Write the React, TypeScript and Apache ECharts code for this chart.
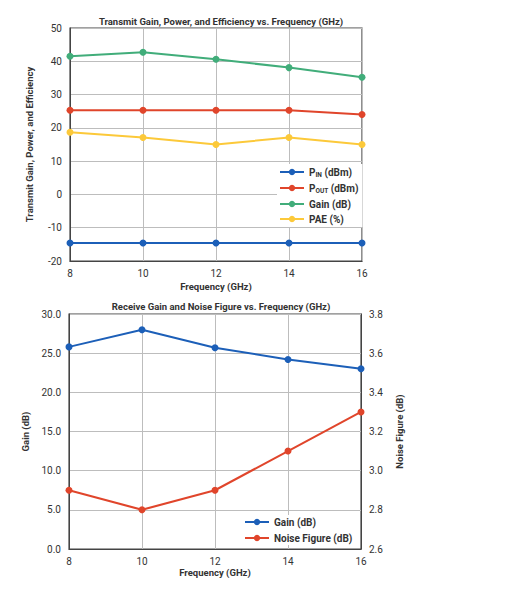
import React, { useEffect, useRef } from 'react';
import * as echarts from 'echarts';

const freqs = ['8', '10', '12', '14', '16'];

const pinValues = [-14.6, -14.6, -14.6, -14.6, -14.6];
const poutValues = [25.3, 25.3, 25.3, 25.3, 24.0];
const txGainValues = [41.5, 42.7, 40.6, 38.1, 35.2];
const paeValues = [18.7, 17.1, 15.0, 17.1, 15.0];

const rxGainValues = [25.8, 28.0, 25.7, 24.2, 23.0];
const noiseFigureValues = [2.9, 2.8, 2.9, 3.1, 3.3];

const BLUE = '#1c5fb8';
const RED = '#e0452b';
const GREEN = '#41ad7a';
const YELLOW = '#fcc93a';
const FONT = 'Roboto';
const TEXT = '#333';

const App: React.FC = () => {
  const chartRef = useRef<HTMLDivElement>(null);

  useEffect(() => {
    if (!chartRef.current) return;
    const chart = echarts.init(chartRef.current, null, { renderer: 'svg' });

    const axisLabel = { color: TEXT, fontSize: 10, fontFamily: FONT };
    const nameStyle = { color: TEXT, fontSize: 9.5, fontWeight: 'bold' as const, fontFamily: FONT };
    const splitLine = { show: true, lineStyle: { color: '#bdbdbd', width: 1 } };

    const line = (name: string, color: string, data: number[], xi: number, yi: number) => ({
      name,
      type: 'line',
      xAxisIndex: xi,
      yAxisIndex: yi,
      data,
      symbol: 'circle',
      symbolSize: 7,
      lineStyle: { color, width: 2 },
      itemStyle: { color },
    });

    // P_IN -> P with subscript IN
    const subLabel = (name: string) => {
      if (name.startsWith('P_')) {
        const rest = name.slice(2);
        const sp = rest.indexOf(' ');
        return `{a|P}{s|${rest.slice(0, sp)}}{a|${rest.slice(sp)}}`;
      }
      return `{a|${name}}`;
    };

    const legendText = {
      color: TEXT,
      fontSize: 10,
      fontFamily: FONT,
      fontWeight: 'bold' as const,
      rich: {
        a: { fontSize: 10, fontFamily: FONT, fontWeight: 'bold' as const, color: TEXT },
        s: { fontSize: 6.5, fontFamily: FONT, fontWeight: 'bold' as const, color: TEXT, padding: [5, 0, 0, 0] },
      },
    };

    const xAxisBase = {
      type: 'category' as const,
      data: freqs,
      boundaryGap: false,
      axisLine: { onZero: false, lineStyle: { color: '#444' } },
      axisTick: { show: false },
      axisLabel: { ...axisLabel, margin: 7 },
      splitLine: { ...splitLine, interval: 0 },
      name: 'Frequency (GHz)',
      nameLocation: 'middle' as const,
      nameTextStyle: nameStyle,
    };

    const options: echarts.EChartsOption = {
      animation: false,
      title: [
        {
          text: 'Transmit Gain, Power, and Efficiency vs. Frequency (GHz)',
          left: 216,
          top: 11,
          textAlign: 'center',
          textStyle: { fontSize: 9.5, fontWeight: 'bold', color: TEXT, fontFamily: FONT },
        },
        {
          text: 'Receive Gain and Noise Figure vs. Frequency (GHz)',
          left: 216,
          top: 296,
          textAlign: 'center',
          textStyle: { fontSize: 9.5, fontWeight: 'bold', color: TEXT, fontFamily: FONT },
        },
      ],
      legend: [
        {
          data: ['P_IN (dBm)', 'P_OUT (dBm)', 'Gain (dB)', 'PAE (%)'],
          orient: 'vertical',
          left: 277,
          top: 164,
          itemWidth: 24,
          itemHeight: 8,
          itemGap: 5,
          padding: [3, 4, 3, 2],
          backgroundColor: '#fff',
          formatter: subLabel,
          textStyle: legendText,
        },
        {
          data: ['Gain (dB) ', 'Noise Figure (dB)'],
          orient: 'vertical',
          left: 242,
          top: 515,
          itemWidth: 24,
          itemHeight: 8,
          itemGap: 6,
          padding: [2, 4, 2, 2],
          backgroundColor: '#fff',
          textStyle: legendText,
          formatter: (n: string) => `{a|${n.trim()}}`,
        },
      ],
      grid: [
        { left: 70, top: 28, width: 292, height: 233, show: true, borderColor: '#444', borderWidth: 1.2, backgroundColor: 'transparent' },
        { left: 69, top: 314, width: 292, height: 235, show: true, borderColor: '#444', borderWidth: 1.2, backgroundColor: 'transparent' },
      ],
      xAxis: [
        { ...xAxisBase, gridIndex: 0, nameGap: 20 },
        { ...xAxisBase, gridIndex: 1, nameGap: 18 },
      ],
      yAxis: [
        {
          type: 'value',
          gridIndex: 0,
          min: -20,
          max: 50,
          interval: 10,
          axisLine: { show: true, lineStyle: { color: '#444' } },
          axisTick: { show: false },
          axisLabel: { ...axisLabel, margin: 8 },
          splitLine,
          name: 'Transmit Gain, Power, and Efficiency',
          nameLocation: 'middle',
          nameGap: 36,
          nameTextStyle: nameStyle,
        },
        {
          type: 'value',
          gridIndex: 1,
          min: 0,
          max: 30,
          interval: 5,
          axisLine: { show: true, lineStyle: { color: '#444' } },
          axisTick: { show: false },
          axisLabel: { ...axisLabel, margin: 8, formatter: (v: number) => v.toFixed(1) },
          splitLine,
          name: 'Gain (dB)',
          nameLocation: 'middle',
          nameGap: 36,
          nameTextStyle: nameStyle,
        },
        {
          type: 'value',
          gridIndex: 1,
          position: 'right',
          min: 2.6,
          max: 3.8,
          interval: 0.2,
          axisLine: { show: true, lineStyle: { color: '#444' } },
          axisTick: { show: false },
          axisLabel: { ...axisLabel, margin: 8, formatter: (v: number) => v.toFixed(1) },
          splitLine: { show: false },
          name: 'Noise Figure (dB)',
          nameLocation: 'middle',
          nameGap: 33,
          nameTextStyle: nameStyle,
        },
      ],
      series: [
        line('Gain (dB)', GREEN, txGainValues, 0, 0),
        line('P_OUT (dBm)', RED, poutValues, 0, 0),
        line('PAE (%)', YELLOW, paeValues, 0, 0),
        line('P_IN (dBm)', BLUE, pinValues, 0, 0),
        line('Gain (dB) ', BLUE, rxGainValues, 1, 1),
        line('Noise Figure (dB)', RED, noiseFigureValues, 1, 2),
      ] as echarts.SeriesOption[],
    };

    chart.setOption(options);

    return () => {
      chart.dispose();
    };
  }, []);

  return (
    <div
      ref={chartRef}
      style={{ position: 'fixed', left: 0, top: 0, width: 517, height: 590, background: '#fff' }}
    />
  );
};

export default App;
